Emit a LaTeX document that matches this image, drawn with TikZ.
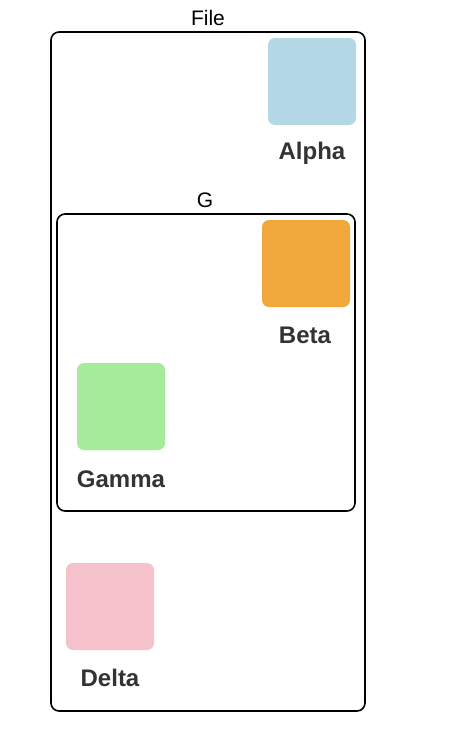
\documentclass[tikz,border=0pt]{standalone}
\usepackage{fontspec}
\setmainfont{Liberation Sans}
\definecolor{alphac}{HTML}{B4D8E5}
\definecolor{betac}{HTML}{F0A83C}
\definecolor{gammac}{HTML}{A6EB99}
\definecolor{deltac}{HTML}{F5C2CC}
\definecolor{txt}{HTML}{333333}
\begin{document}
\begin{tikzpicture}[x=1pt,y=-1pt,
  frame/.style={draw=black,line width=1.6pt,rounded corners=8pt},
  sq/.style={draw=none,rounded corners=7pt,minimum width=88pt,minimum height=87pt,inner sep=0pt},
  lbl/.style={text=txt,font=\fontsize{24}{26}\selectfont\bfseries,inner sep=0pt},
  ttl/.style={text=black,font=\fontsize{21}{23}\selectfont,inner sep=0pt}]
\useasboundingbox[fill=white] (0,0) rectangle (474,755);
\node[frame,minimum width=314pt,minimum height=679pt,inner sep=0pt] (file) at (208,371.5) {};
\node[ttl] (filel) at (208,18) {File};
\node[frame,minimum width=298pt,minimum height=297pt,inner sep=0pt] (g) at (206,362.5) {};
\node[ttl] (gl) at (205,200) {G};
\node[sq,fill=alphac] (alpha) at (312,81.5) {};
\node[lbl] (alphal) at (312,153) {Alpha};
\node[sq,fill=betac] (beta) at (306,263.5) {};
\node[lbl] (betal) at (305,335) {Beta};
\node[sq,fill=gammac] (gamma) at (121,406.5) {};
\node[lbl] (gammal) at (121,479) {Gamma};
\node[sq,fill=deltac] (delta) at (110,606.5) {};
\node[lbl] (deltal) at (110,678) {Delta};
\end{tikzpicture}
\end{document}
